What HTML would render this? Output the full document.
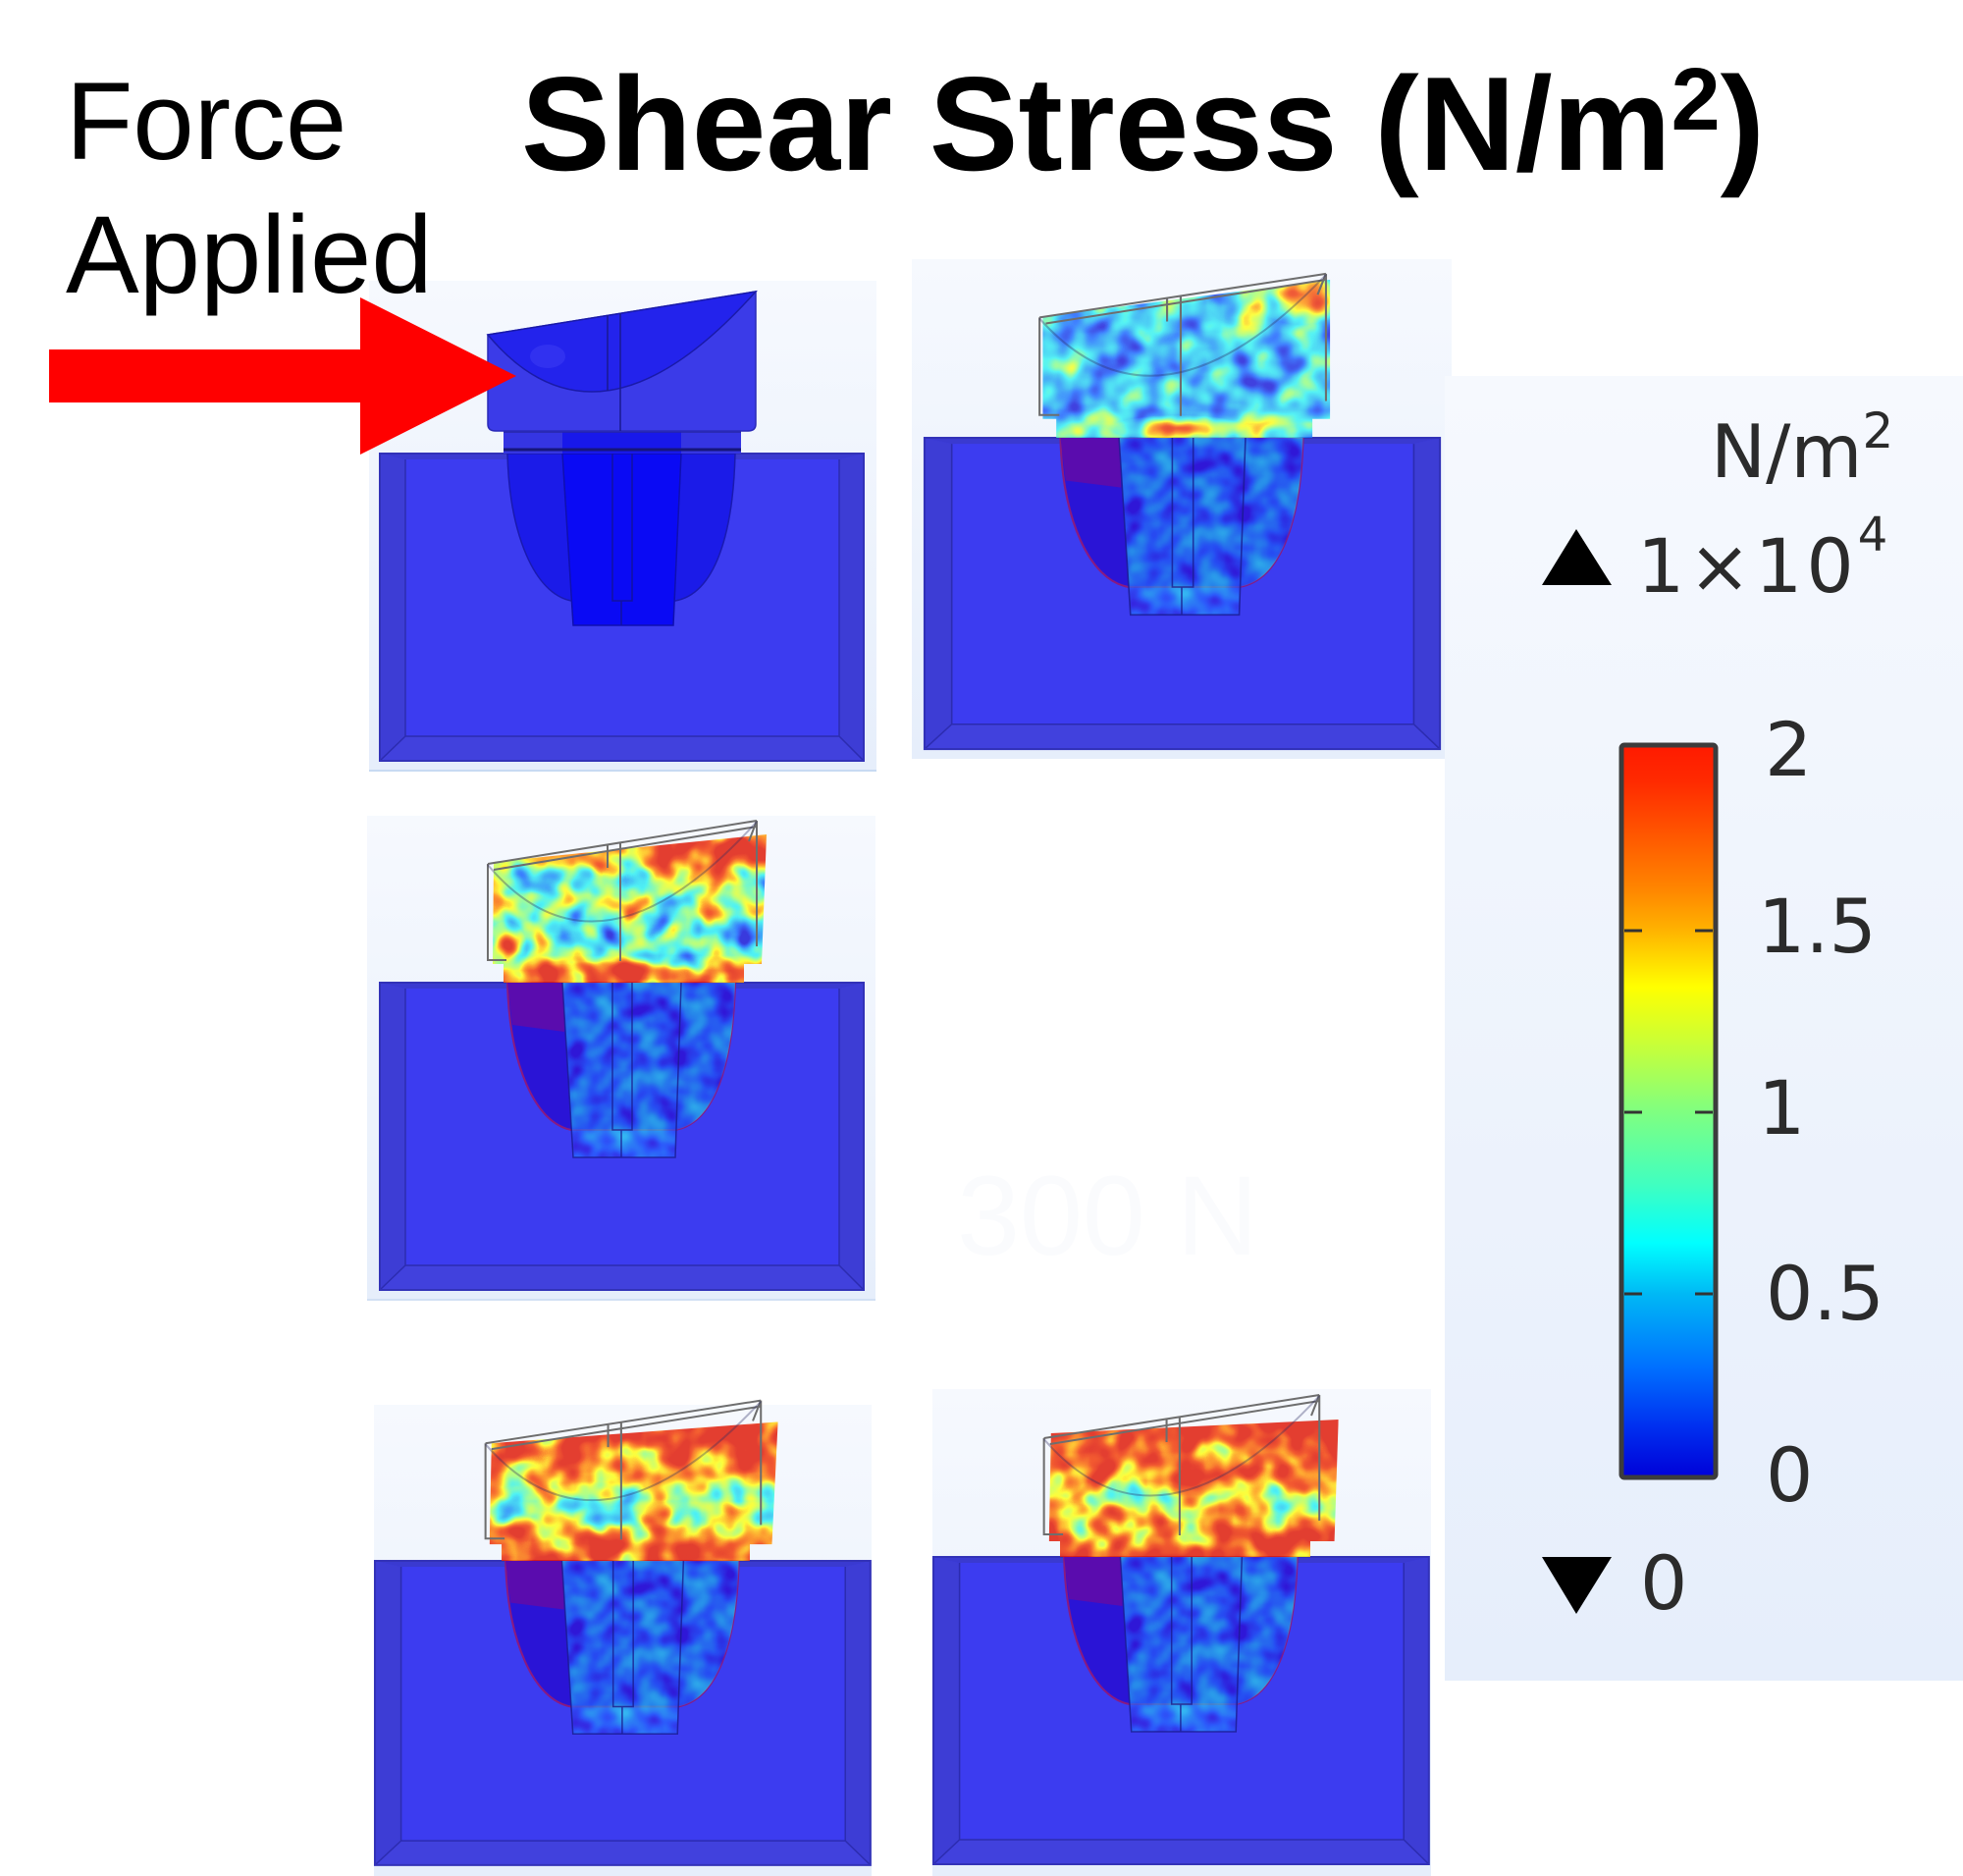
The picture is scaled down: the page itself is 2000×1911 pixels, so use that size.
<!DOCTYPE html>
<html>
<head>
<meta charset="utf-8">
<style>
  html,body{margin:0;padding:0;background:#ffffff;}
  svg{display:block;}
</style>
</head>
<body>
<svg xmlns="http://www.w3.org/2000/svg" width="2000" height="1911" viewBox="0 0 2000 1911">
<defs>
  <linearGradient id="bg" x1="0" y1="0" x2="0" y2="1">
    <stop offset="0" stop-color="#f6f9fe"/>
    <stop offset="1" stop-color="#e6eefb"/>
  </linearGradient>
  <linearGradient id="cb" x1="0" y1="0" x2="0" y2="1">
    <stop offset="0" stop-color="#ff1a00"/>
    <stop offset="0.05" stop-color="#ff2a00"/>
    <stop offset="0.12" stop-color="#ff5500"/>
    <stop offset="0.2" stop-color="#ff8800"/>
    <stop offset="0.25" stop-color="#ffb000"/>
    <stop offset="0.33" stop-color="#ffff00"/>
    <stop offset="0.42" stop-color="#c0ff40"/>
    <stop offset="0.5" stop-color="#80ff80"/>
    <stop offset="0.6" stop-color="#40ffc0"/>
    <stop offset="0.68" stop-color="#00ffff"/>
    <stop offset="0.75" stop-color="#00b8f5"/>
    <stop offset="0.85" stop-color="#0070ff"/>
    <stop offset="0.93" stop-color="#0030f0"/>
    <stop offset="1" stop-color="#0000d8"/>
  </linearGradient>

  <filter id="jet2" x="0" y="0" width="1" height="1" color-interpolation-filters="sRGB">
    <feTurbulence type="fractalNoise" baseFrequency="0.035" numOctaves="2" seed="2" result="n"/>
    <feColorMatrix in="n" type="matrix" values="1 0 0 0 0  1 0 0 0 0  1 0 0 0 0  0 0 0 0 1" result="g"/>
    <feComposite in="SourceGraphic" in2="g" operator="arithmetic" k1="0" k2="1" k3="1.0" k4="-0.5" result="v"/>
    <feComponentTransfer in="v">
      <feFuncR type="table" tableValues="0.1 0.1 0.15 0.2 0.6 1 1 0.95 0.88"/>
      <feFuncG type="table" tableValues="0.1 0.4 0.72 0.95 1 1 0.55 0.25 0.12"/>
      <feFuncB type="table" tableValues="0.85 1 0.95 0.95 0.5 0.1 0.05 0.05 0.05"/>
      <feFuncA type="table" tableValues="1 1"/>
    </feComponentTransfer>
  </filter>
  <filter id="jet3" x="0" y="0" width="1" height="1" color-interpolation-filters="sRGB">
    <feTurbulence type="fractalNoise" baseFrequency="0.035" numOctaves="2" seed="7" result="n"/>
    <feColorMatrix in="n" type="matrix" values="1 0 0 0 0  1 0 0 0 0  1 0 0 0 0  0 0 0 0 1" result="g"/>
    <feComposite in="SourceGraphic" in2="g" operator="arithmetic" k1="0" k2="1" k3="1.2" k4="-0.6" result="v"/>
    <feComponentTransfer in="v">
      <feFuncR type="table" tableValues="0.1 0.1 0.15 0.2 0.6 1 1 0.95 0.88"/>
      <feFuncG type="table" tableValues="0.1 0.4 0.72 0.95 1 1 0.55 0.25 0.12"/>
      <feFuncB type="table" tableValues="0.85 1 0.95 0.95 0.5 0.1 0.05 0.05 0.05"/>
      <feFuncA type="table" tableValues="1 1"/>
    </feComponentTransfer>
  </filter>
  <filter id="jet4" x="0" y="0" width="1" height="1" color-interpolation-filters="sRGB">
    <feTurbulence type="fractalNoise" baseFrequency="0.035" numOctaves="2" seed="13" result="n"/>
    <feColorMatrix in="n" type="matrix" values="1 0 0 0 0  1 0 0 0 0  1 0 0 0 0  0 0 0 0 1" result="g"/>
    <feComposite in="SourceGraphic" in2="g" operator="arithmetic" k1="0" k2="1" k3="1.2" k4="-0.6" result="v"/>
    <feComponentTransfer in="v">
      <feFuncR type="table" tableValues="0.1 0.1 0.15 0.2 0.6 1 1 0.95 0.88"/>
      <feFuncG type="table" tableValues="0.1 0.4 0.72 0.95 1 1 0.55 0.25 0.12"/>
      <feFuncB type="table" tableValues="0.85 1 0.95 0.95 0.5 0.1 0.05 0.05 0.05"/>
      <feFuncA type="table" tableValues="1 1"/>
    </feComponentTransfer>
  </filter>
  <filter id="jet5" x="0" y="0" width="1" height="1" color-interpolation-filters="sRGB">
    <feTurbulence type="fractalNoise" baseFrequency="0.035" numOctaves="2" seed="21" result="n"/>
    <feColorMatrix in="n" type="matrix" values="1 0 0 0 0  1 0 0 0 0  1 0 0 0 0  0 0 0 0 1" result="g"/>
    <feComposite in="SourceGraphic" in2="g" operator="arithmetic" k1="0" k2="1" k3="1.2" k4="-0.6" result="v"/>
    <feComponentTransfer in="v">
      <feFuncR type="table" tableValues="0.1 0.1 0.15 0.2 0.6 1 1 0.95 0.88"/>
      <feFuncG type="table" tableValues="0.1 0.4 0.72 0.95 1 1 0.55 0.25 0.12"/>
      <feFuncB type="table" tableValues="0.85 1 0.95 0.95 0.5 0.1 0.05 0.05 0.05"/>
      <feFuncA type="table" tableValues="1 1"/>
    </feComponentTransfer>
  </filter>
  <filter id="jetS" x="0" y="0" width="1" height="1" color-interpolation-filters="sRGB">
    <feTurbulence type="fractalNoise" baseFrequency="0.04" numOctaves="2" seed="5" result="n"/>
    <feColorMatrix in="n" type="matrix" values="1 0 0 0 0  1 0 0 0 0  1 0 0 0 0  0 0 0 0 1" result="g"/>
    <feComposite in="SourceGraphic" in2="g" operator="arithmetic" k1="0" k2="1" k3="0.6" k4="-0.3" result="v"/>
    <feComponentTransfer in="v">
      <feFuncR type="table" tableValues="0.2 0.15 0.15 0.2 0.6 1 1 0.95 0.88"/>
      <feFuncG type="table" tableValues="0.1 0.4 0.72 0.95 1 1 0.55 0.25 0.12"/>
      <feFuncB type="table" tableValues="0.85 1 0.95 0.95 0.5 0.1 0.05 0.05 0.05"/>
      <feFuncA type="table" tableValues="1 1"/>
    </feComponentTransfer>
  </filter>

  <linearGradient id="vm2" gradientUnits="userSpaceOnUse" x1="0" y1="295" x2="0" y2="465">
    <stop offset="0" stop-color="rgb(72,72,72)"/>
    <stop offset="0.5" stop-color="rgb(68,68,68)"/>
    <stop offset="0.82" stop-color="rgb(64,64,64)"/>
    <stop offset="0.9" stop-color="rgb(110,110,110)"/>
    <stop offset="1" stop-color="rgb(100,100,100)"/>
  </linearGradient>
  <linearGradient id="vm3" gradientUnits="userSpaceOnUse" x1="0" y1="295" x2="0" y2="465">
    <stop offset="0" stop-color="rgb(179,179,179)"/>
    <stop offset="0.235" stop-color="rgb(170,170,170)"/>
    <stop offset="0.44" stop-color="rgb(125,125,125)"/>
    <stop offset="0.68" stop-color="rgb(97,97,97)"/>
    <stop offset="0.82" stop-color="rgb(115,115,115)"/>
    <stop offset="0.91" stop-color="rgb(217,217,217)"/>
    <stop offset="1" stop-color="rgb(204,204,204)"/>
  </linearGradient>
  <linearGradient id="vm4" gradientUnits="userSpaceOnUse" x1="0" y1="295" x2="0" y2="465">
    <stop offset="0" stop-color="rgb(230,230,230)"/>
    <stop offset="0.29" stop-color="rgb(224,224,224)"/>
    <stop offset="0.47" stop-color="rgb(184,184,184)"/>
    <stop offset="0.62" stop-color="rgb(122,122,122)"/>
    <stop offset="0.76" stop-color="rgb(153,153,153)"/>
    <stop offset="0.88" stop-color="rgb(217,217,217)"/>
    <stop offset="1" stop-color="rgb(230,230,230)"/>
  </linearGradient>
  <linearGradient id="vm5" gradientUnits="userSpaceOnUse" x1="0" y1="295" x2="0" y2="465">
    <stop offset="0" stop-color="rgb(242,242,242)"/>
    <stop offset="0.32" stop-color="rgb(230,230,230)"/>
    <stop offset="0.5" stop-color="rgb(199,199,199)"/>
    <stop offset="0.62" stop-color="rgb(153,153,153)"/>
    <stop offset="0.74" stop-color="rgb(166,166,166)"/>
    <stop offset="0.85" stop-color="rgb(217,217,217)"/>
    <stop offset="1" stop-color="rgb(242,242,242)"/>
  </linearGradient>
  <radialGradient id="hot"><stop offset="0" stop-color="rgb(245,245,245)" stop-opacity="1"/><stop offset="1" stop-color="rgb(245,245,245)" stop-opacity="0"/></radialGradient>
  <radialGradient id="warm"><stop offset="0" stop-color="rgb(155,155,155)" stop-opacity="1"/><stop offset="1" stop-color="rgb(155,155,155)" stop-opacity="0"/></radialGradient>
  <radialGradient id="cool"><stop offset="0" stop-color="rgb(100,100,100)" stop-opacity="1"/><stop offset="1" stop-color="rgb(100,100,100)" stop-opacity="0"/></radialGradient>
  <radialGradient id="cold"><stop offset="0" stop-color="rgb(55,55,55)" stop-opacity="1"/><stop offset="1" stop-color="rgb(55,55,55)" stop-opacity="0"/></radialGradient>

  <clipPath id="stemClip">
    <polygon points="573,462 694,462 688,640 584,640"/>
    <path d="M694,462 L749,462 C747,545 728,605 688,612 Z"/>
  </clipPath>
  <clipPath id="cc2"><path d="M500,340 L775,303 L775,443 L758,443 L758,462 L513,462 L513,443 L500,443 Z"/></clipPath>
  <clipPath id="cc3"><path d="M503,339 L781,311 L776,443 L758,443 L758,462 L513,462 L513,443 L502,443 Z"/></clipPath>
  <clipPath id="cc4"><path d="M503,341 L788,319 L782,445 L760,445 L760,462 L513,462 L513,445 L501,445 Z"/></clipPath>
  <clipPath id="cc5"><path d="M504,336 L790,322 L786,446 L762,446 L762,462 L513,462 L513,446 L502,446 Z"/></clipPath>

  <g id="box">
    <rect x="387" y="462" width="493" height="313" fill="#3c3cf0"/>
    <polygon points="387,462 413,468 413,750 387,775" fill="#3d3dd5"/>
    <polygon points="880,462 855,468 855,750 880,775" fill="#3d3dd5"/>
    <polygon points="387,775 413,750 855,750 880,775" fill="#4141dd"/>
    <polygon points="387,462 880,462 855,468 413,468" fill="#3a3ad0"/>
    <path d="M413,468 V750 H855 V468 M387,775 L413,750 M880,775 L855,750" stroke="#2c2cb0" stroke-width="1.5" fill="none"/>
    <rect x="387" y="462" width="493" height="313" fill="none" stroke="#3232b8" stroke-width="2"/>
  </g>

  <g id="bellC">
    <path d="M517,462 C519,545 545,605 582,612 L688,612 C728,605 747,545 749,462 Z" fill="#2a14d6" stroke="#8a1a80" stroke-width="2"/>
    <polygon points="517,462 575,462 575,512 522,505" fill="#5a0cae"/>
    <g clip-path="url(#stemClip)" opacity="0.7">
      <rect x="500" y="455" width="260" height="200" fill="rgb(40,40,40)" filter="url(#jetS)"/>
    </g>
    <path d="M573,462 L584,640 L688,640 L694,462 M624,462 V612 H644 V462 M633,612 V640" stroke="#1a1a90" stroke-width="1.5" fill="none" opacity="0.8"/>
  </g>

  <g id="outline" fill="none" stroke="#6e6e6e" stroke-width="2">
    <path d="M497,341 L771,297 M503,347 L771,303 M497,341 V439 H516 M771,297 V425 M771,297 L763,318 M619,321 V345 M632,319 V440"/>
    <path d="M497,342 Q610,476 771,298" stroke="#2a2a60" stroke-opacity="0.35"/>
  </g>
</defs>

<rect x="0" y="0" width="2000" height="1911" fill="#ffffff"/>

<rect x="376" y="286" width="517" height="500" fill="url(#bg)"/>
<rect x="376" y="784" width="517" height="2" fill="#c8daf2"/>
<rect x="929" y="264" width="550" height="509" fill="url(#bg)"/>
<rect x="374" y="831" width="518" height="494" fill="url(#bg)"/>
<rect x="374" y="1323" width="518" height="2" fill="#d2e0f4"/>
<rect x="381" y="1431" width="507" height="480" fill="url(#bg)"/>
<rect x="950" y="1415" width="508" height="496" fill="url(#bg)"/>

<text x="975" y="1278" font-family="'Liberation Sans', Arial, sans-serif" font-size="115" fill="#fafbfd">300 N</text>

<!-- Panel 1 -->
<g>
  <use href="#box"/>
  <path d="M517,462 C519,545 545,605 582,612 L688,612 C728,605 747,545 749,462 Z" fill="#1b1be8" stroke="#1a1ab0" stroke-width="1.5"/>
  <polygon points="573,462 694,462 686,637 584,637" fill="#0a0af4" stroke="#1010b0" stroke-width="1.5"/>
  <path d="M624,462 V612 H644 V462 M633,612 V637" stroke="#1212a0" stroke-width="1.5" fill="none"/>
  <rect x="513" y="439" width="242" height="23" fill="#3535e2"/>
  <rect x="573" y="439" width="121" height="23" fill="#1818ea"/>
  <line x1="513" y1="458" x2="755" y2="458" stroke="#16167a" stroke-width="3"/>
  <line x1="513" y1="440" x2="755" y2="440" stroke="#2626a8" stroke-width="1.5"/>
  <path d="M497,341 L770,297 L770,432 Q770,439 762,439 L505,439 Q497,439 497,432 Z" fill="#3b3be8" stroke="#2a2ab8" stroke-width="1.5"/>
  <path d="M497,341 L770,297 Q610,476 497,341 Z" fill="#2323ec" stroke="#1a1aa8" stroke-width="1.5"/>
  <ellipse cx="558" cy="363" rx="18" ry="12" fill="#3a3af4" opacity="0.6"/>
  <path d="M632,319 V439 M619,321 V398" stroke="#1a1a90" stroke-width="1.5"/>
</g>

<!-- Panel 2 -->
<g transform="translate(942,446) scale(1.065,1.013) translate(-387,-462)">
  <use href="#box"/>
  <use href="#bellC"/>
  <g clip-path="url(#cc2)" opacity="0.82">
    <g filter="url(#jet2)">
      <rect x="490" y="290" width="310" height="180" fill="url(#vm2)"/>
      <ellipse cx="748" cy="318" rx="50" ry="30" fill="url(#hot)"/>
      <ellipse cx="700" cy="330" rx="40" ry="20" fill="url(#warm)"/>
      <ellipse cx="630" cy="452" rx="65" ry="13" fill="url(#hot)"/>
      <ellipse cx="560" cy="385" rx="45" ry="22" fill="url(#cold)"/>
    </g>
  </g>
  <use href="#outline"/>
</g>

<!-- Panel 3 -->
<g transform="translate(0,539)">
  <use href="#box"/>
  <use href="#bellC"/>
  <g clip-path="url(#cc3)" opacity="0.85">
    <g filter="url(#jet3)">
      <rect x="490" y="290" width="310" height="180" fill="url(#vm3)"/>
      <ellipse cx="730" cy="330" rx="90" ry="35" fill="url(#hot)"/>
      <ellipse cx="515" cy="425" rx="22" ry="26" fill="url(#hot)"/>
      <ellipse cx="545" cy="355" rx="45" ry="16" fill="url(#cool)"/>
      <ellipse cx="620" cy="452" rx="80" ry="12" fill="url(#hot)"/>
    </g>
  </g>
  <use href="#outline"/>
</g>

<!-- Panel 4 -->
<g transform="translate(382,1590) scale(1.024,0.99) translate(-387,-462)">
  <use href="#box"/>
  <use href="#bellC"/>
  <g clip-path="url(#cc4)" opacity="0.85">
    <g filter="url(#jet4)">
      <rect x="490" y="290" width="310" height="180" fill="url(#vm4)"/>
      <ellipse cx="740" cy="340" rx="80" ry="40" fill="url(#hot)"/>
      <ellipse cx="530" cy="430" rx="30" ry="15" fill="url(#hot)"/>
      <ellipse cx="600" cy="395" rx="55" ry="15" fill="url(#cool)"/>
    </g>
  </g>
  <use href="#outline"/>
</g>

<!-- Panel 5 -->
<g transform="translate(951,1586) scale(1.024,1) translate(-387,-462)">
  <use href="#box"/>
  <use href="#bellC"/>
  <g clip-path="url(#cc5)" opacity="0.85">
    <g filter="url(#jet5)">
      <rect x="490" y="290" width="310" height="180" fill="url(#vm5)"/>
      <ellipse cx="720" cy="350" rx="100" ry="40" fill="url(#hot)"/>
      <ellipse cx="575" cy="398" rx="60" ry="15" fill="url(#cool)"/>
      <ellipse cx="520" cy="370" rx="20" ry="30" fill="url(#hot)"/>
    </g>
  </g>
  <use href="#outline"/>
</g>

<!-- Colorbar panel -->
<rect x="1472" y="383" width="528" height="1329" fill="url(#bg)"/>
<g font-family="'DejaVu Sans', 'Liberation Sans', sans-serif" fill="#2b2b2b">
  <text x="1743" y="486" font-size="75">N/m<tspan font-size="50" dy="-30">2</tspan></text>
  <polygon points="1571,596 1642,596 1606,539" fill="#000000"/>
  <text x="1668" y="603" font-size="76" letter-spacing="4">1×10<tspan font-size="48" dy="-42" letter-spacing="0">4</tspan></text>
  <rect x="1652" y="759" width="96" height="746" rx="3" fill="url(#cb)" stroke="#3c3c3c" stroke-width="5"/>
  <path d="M1655,948 H1673 M1727,948 H1745 M1655,1133 H1673 M1727,1133 H1745 M1655,1318 H1673 M1727,1318 H1745" stroke="#333333" stroke-width="3"/>
  <text x="1798" y="790" font-size="76">2</text>
  <text x="1791" y="970" font-size="76">1.5</text>
  <text x="1791" y="1155" font-size="76">1</text>
  <text x="1799" y="1344" font-size="76">0.5</text>
  <text x="1799" y="1529" font-size="76">0</text>
  <polygon points="1571,1586 1642,1586 1606,1644" fill="#000000"/>
  <text x="1671" y="1639" font-size="76">0</text>
</g>

<text x="67" y="162" font-family="'Liberation Sans', Arial, sans-serif" font-size="112" fill="#000000">Force</text>
<text x="67" y="298" font-family="'Liberation Sans', Arial, sans-serif" font-size="112" fill="#000000">Applied</text>
<text x="531" y="173" font-family="'Liberation Sans', Arial, sans-serif" font-weight="bold" font-size="136" fill="#000000">Shear Stress (N/m<tspan font-size="90" dy="-41">2</tspan><tspan dy="41">)</tspan></text>

<polygon points="50,356 367,356 367,303 526,383 367,463 367,410 50,410" fill="#ff0000"/>
</svg>
</body>
</html>
